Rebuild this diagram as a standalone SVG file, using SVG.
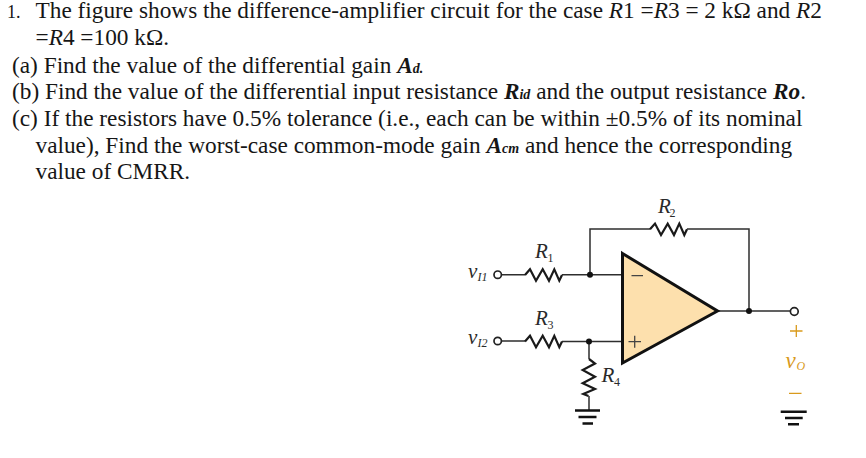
<svg xmlns="http://www.w3.org/2000/svg" width="866" height="458" viewBox="0 0 866 458">
<style>
text{font-family:"Liberation Serif","Times New Roman",serif;fill:#161616}
.t{font-size:23.3px}
.n{font-size:18px}
.bi{font-weight:bold;font-style:italic}
.sub{font-size:14px}
.l{font-size:21px;font-style:italic;fill:#2a2a2a}
.s{font-size:12px;fill:#2a2a2a}
.si{font-size:12px;font-style:italic;fill:#2a2a2a}
.w{fill:none;stroke:#2e2e2e;stroke-width:1.5}
.r{fill:none;stroke:#1a1a1a;stroke-width:2.2;stroke-linejoin:miter}
.g{stroke:#111;fill:none;stroke-width:2.500}
.o{fill:#fff;stroke:#222;stroke-width:1.700}
.d{fill:#111}
</style>
<rect width="866" height="458" fill="#fff"/>
<g id="question">
<text class="n" x="7" y="17.500">1.</text>
<text class="t" x="35.500" y="18">The figure shows the difference-amplifier circuit for the case <tspan font-style="italic">R</tspan>1 =<tspan font-style="italic">R</tspan>3 = 2 kΩ and <tspan font-style="italic">R</tspan>2</text>
<text class="t" x="35.500" y="45">=<tspan font-style="italic">R</tspan>4 =100 kΩ.</text>
<text class="t" x="12" y="72.500">(a) Find the value of the differential gain <tspan class="bi">A</tspan><tspan class="bi sub">d.</tspan></text>
<text class="t" x="12" y="99">(b) Find the value of the differential input resistance <tspan class="bi">R</tspan><tspan class="bi sub">id</tspan> and the output resistance <tspan class="bi">Ro</tspan>.</text>
<text class="t" x="12" y="126">(c) If the resistors have 0.5% tolerance (i.e., each can be within ±0.5% of its nominal</text>
<text class="t" x="35.500" y="153">value), Find the worst-case common-mode gain <tspan class="bi">A</tspan><tspan class="bi sub">cm</tspan> and hence the corresponding</text>
<text class="t" x="35.500" y="179">value of CMRR.</text>
</g>
<g id="connectors">
<path class="w" d="M501.500 274.700H525M562 274.700H622M590 274.700V229H650M687 229H749V311M718 311H790"/>
<path class="w" d="M501.500 341H525M562 341.500H622M589 341.500V359M589 396V410"/>
</g>
<g id="opamp">
<path d="M622.500 253.500L717.500 311L622.500 363Z" fill="#fde0ad" stroke="#111" stroke-width="3" stroke-linejoin="miter"/>
<path d="M631.500 275.700H643M628.500 341.700H641M634.700 335.700V347.700" stroke="#444" stroke-width="1.300" fill="none"/>
</g>
<g id="R1"><path class="r" d="M525 275L530 269.300L536 280.700L542.700 269.300L549 280.700L554.300 269.300L559.300 280.700L562 275"/><text class="l" x="535" y="258">R</text><text class="s" x="547.500" y="262">1</text></g>
<g id="R2"><path class="r" d="M650 229.300L655 223.600L661 235L667.700 223.600L674 235L679.300 223.600L684.300 235L687 229.300"/><text class="l" x="658" y="213">R</text><text class="s" x="669.500" y="216.500">2</text></g>
<g id="R3"><path class="r" d="M525 341.500L530 335.800L536 347.200L542.700 335.800L549 347.200L554.300 335.800L559.300 347.200L562 341.500"/><text class="l" x="535" y="325">R</text><text class="s" x="547.500" y="329">3</text></g>
<g id="R4"><path class="r" d="M589 359L595 363.500L582.700 370L595 376.700L582.700 383.300L595 389L583.300 394L588.500 396"/><text class="l" x="601.500" y="381.500">R</text><text class="s" x="614" y="385.500">4</text></g>
<g id="vI1"><circle class="o" cx="497.700" cy="274.700" r="3.700"/><text class="l" x="468" y="278">v</text><text class="si" x="477.500" y="280.500">I1</text></g>
<g id="vI2"><circle class="o" cx="497.700" cy="341" r="3.700"/><text class="l" x="468" y="344">v</text><text class="si" x="477.500" y="346.500">I2</text></g>
<g id="junctions"><circle class="d" cx="590" cy="274.700" r="3"/><circle class="d" cx="589" cy="341.500" r="3"/><circle class="d" cx="749" cy="311" r="3"/></g>
<g id="output"><circle class="o" cx="794.300" cy="311.500" r="3.900"/>
<path d="M790 331H802.500M796.300 325V337M789 393.300H801.500" stroke="#d99a1c" stroke-width="1.300" fill="none"/>
<text class="l" x="785.500" y="367.500" style="fill:#d99a1c;font-size:23px">v</text><text class="si" x="796.500" y="370" style="fill:#d99a1c">O</text></g>
<g id="ground1" class="g"><path d="M575 410.500H600M578.500 417H596.500M582.500 423.500H593"/></g>
<g id="ground2" class="g"><path d="M780.700 411.700H806.700M785 418H802.700M788 424.300H799"/></g>
</svg>
